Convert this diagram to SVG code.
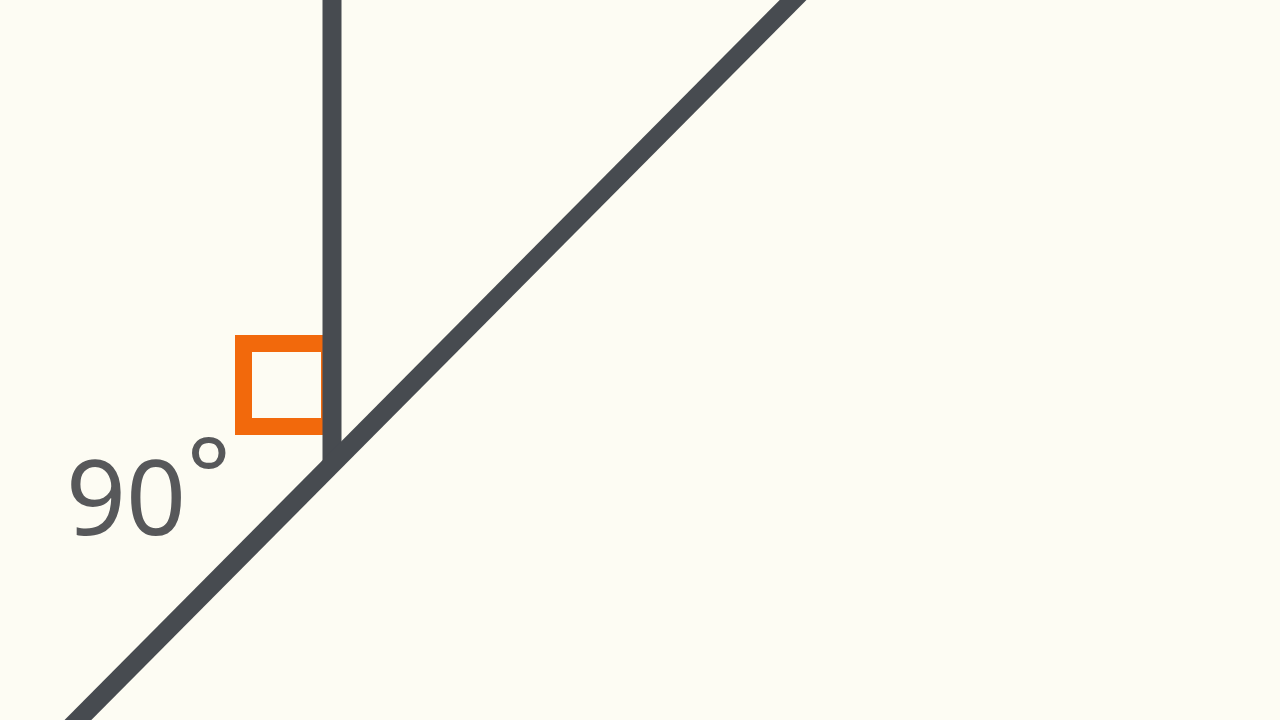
<svg xmlns="http://www.w3.org/2000/svg" width="1280" height="720" viewBox="0 0 1280 720">
<style>
.ln{stroke:#474b50;stroke-width:19;fill:none}
.mk{stroke:#f2690c;stroke-width:17;fill:none}
.lb{font-family:"Noto Sans","Open Sans","Liberation Sans",sans-serif;font-size:105px;fill:#57585a}
</style>
<rect width="1280" height="720" fill="#fdfcf3"/>
<g id="right-angle-mark"><rect class="mk" x="243.5" y="343.5" width="86" height="83"/></g>
<g id="connectors">
<line class="ln" x1="332" y1="-10" x2="332" y2="462"/>
<line class="ln" x1="68" y1="730" x2="803" y2="-10"/>
</g>
<g id="label"><text class="lb" x="66" y="535">90<tspan dx="0" dy="-22">°</tspan></text></g>
</svg>
